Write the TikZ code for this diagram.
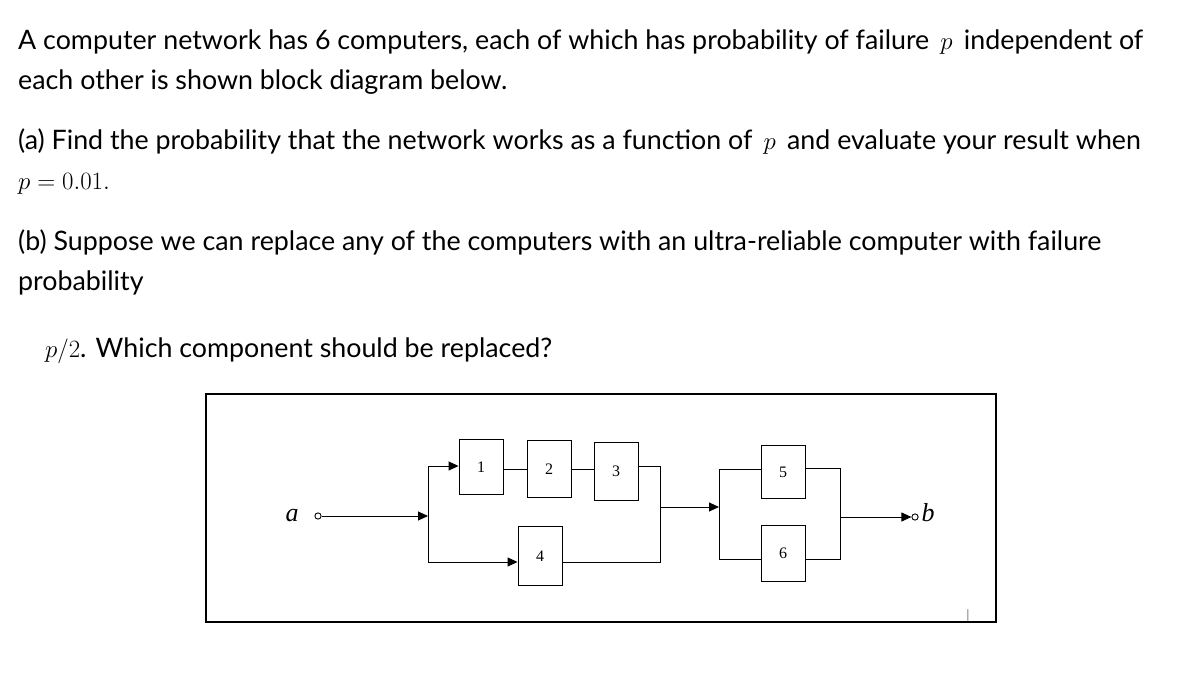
\documentclass[tikz,border=0pt]{standalone}
\usepackage{fontspec}
\setmainfont{Lato}
\newfontfamily\tnr{Liberation Serif}
\usetikzlibrary{arrows.meta}
\begin{document}
\begin{tikzpicture}[x=1pt,y=-1pt,
  txt/.style={anchor=base west,inner sep=0pt,font=\fontsize{26.8}{30}\selectfont},
  blk/.style={draw,fill=white,line width=0.9pt,minimum width=44pt,inner sep=0pt,font=\fontsize{16}{16}\tnr},
  w/.style={line width=0.9pt},
  arr/.style={w,-{Triangle[length=10pt,width=9pt]}}]
\useasboundingbox (0,0) rectangle (1197,676);
\node[txt] (t1) at (18,50) {A computer network has 6 computers, each of which has probability of failure \,$p$\, independent of};
\node[txt] (t2) at (18,90) {each other is shown block diagram below.};
\node[txt] (t3) at (18,150) {(a) Find the probability that the network works as a function of \,$p$\, and evaluate your result when};
\node[txt] (t4) at (18,190) {$p=0.01.$};
\node[txt] (t5) at (18,251) {(b) Suppose we can replace any of the computers with an ultra-reliable computer with failure};
\node[txt] (t6) at (18,291) {probability};
\node[txt] (t7) at (45,358) {$p/2$. Which component should be replaced?};
\draw[line width=1.2pt] (206,394) rectangle (996,622);
\node[inner sep=0pt,font=\fontsize{12}{12}\sffamily] (tick) at (968,615) {|};
% blocks
\node[blk,minimum height=55pt] (b1) at (481,467) {1};
\node[blk,minimum height=57pt] (b2) at (549,469) {2};
\node[blk,minimum height=58pt] (b3) at (616,471) {3};
\node[blk,minimum height=59pt] (b4) at (540,556) {4};
\node[blk,minimum height=53pt] (b5) at (783,472) {5};
\node[blk,minimum height=56pt] (b6) at (783,553) {6};
\node[inner sep=0pt,font=\fontsize{26}{26}\tnr\itshape] (a) at (292,516) {a};
\node[circle,draw,inner sep=2.2pt,w] (ca) at (318,516) {};
\node[circle,draw,inner sep=2.2pt,w] (cb) at (915,517) {};
\node[inner sep=0pt,font=\fontsize{26}{26}\tnr\itshape] (b) at (928,513) {b};
\coordinate (s1) at (428,516);
\coordinate (j1) at (660,507);
\coordinate (s2) at (719,507);
\draw[arr] (ca) -- (s1);
\draw[w] (428,466) -- (428,562);
\draw[arr] (428,466) -- (b1.west |- 0,466);
\draw[arr] (428,562) -- (b4.west |- 0,562);
\draw[w] (b1.east |- 0,469) -- (b2.west |- 0,469);
\draw[w] (b2.east |- 0,469) -- (b3.west |- 0,469);
\draw[w] (b3.east |- 0,466) -- (660,466) -- (660,562) -- (b4.east |- 0,562);
\draw[arr] (j1) -- (s2);
\draw[w] (b5.west |- 0,469) -- (719,469) -- (719,559) -- (b6.west |- 0,559);
\draw[w] (b5.east |- 0,468) -- (840,468) -- (840,559) -- (b6.east |- 0,559);
\draw[arr] (840,517) -- (cb);
\end{tikzpicture}
\end{document}
